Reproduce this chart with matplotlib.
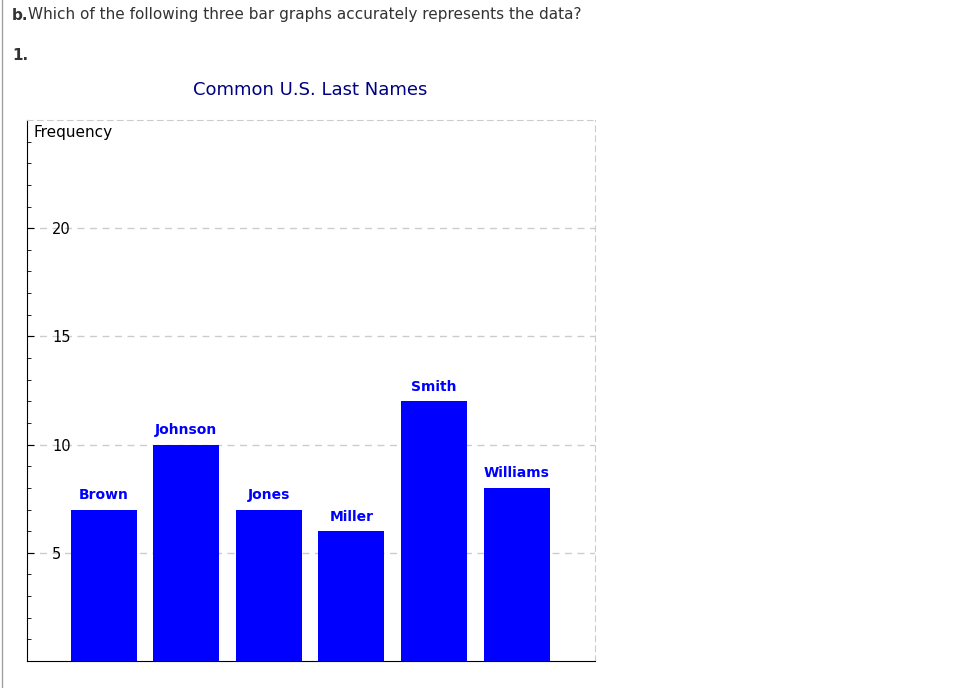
import matplotlib
matplotlib.use('Agg')
import matplotlib.pyplot as plt
from matplotlib.ticker import MultipleLocator

names = ['Brown', 'Johnson', 'Jones', 'Miller', 'Smith', 'Williams']
counts = [7, 10, 7, 6, 12, 8]
yticks = [5, 10, 15, 20]

fig = plt.figure(figsize=(9.54, 6.88), dpi=100)
W, H = 954, 688

# page text above the chart
fig.text(12 / W, 1 - 15 / H, 'b.', fontsize=11, fontweight='bold', va='center', color='#333333')
fig.text(28 / W, 1 - 15 / H, 'Which of the following three bar graphs accurately represents the data?',
         fontsize=11, va='center', color='#333333')
fig.text(12 / W, 1 - 55 / H, '1.', fontsize=11, fontweight='bold', va='center', color='#333333')
fig.add_artist(plt.Line2D([2 / W, 2 / W], [0, 1], color='#a0a0a0', lw=1))

ax = fig.add_axes([27 / W, 27 / H, 568 / W, 541 / H])
x = list(range(len(names)))
ax.bar(x, counts, width=0.8, color='#0000ff', zorder=3)
for xi, c, n in zip(x, counts, names):
    ax.text(xi, c + 0.35, n, ha='center', va='bottom', fontsize=10, fontweight='bold', color='#0000ff')

ax.set_xlim(-0.93, 5.95)
ax.set_ylim(0, 25)
ax.set_xticks([])
ax.set_yticks(yticks)
ax.yaxis.set_minor_locator(MultipleLocator(1))
ax.tick_params(axis='y', direction='in', length=5, pad=-18, labelsize=10.5)
ax.tick_params(axis='y', which='minor', direction='in', length=3)
for lbl in ax.get_yticklabels():
    lbl.set_horizontalalignment('left')
ax.grid(axis='y', linestyle=(0, (5, 4)), color='#cccccc', lw=1, zorder=0)
ax.spines['top'].set_linestyle((0, (5, 4)))
ax.spines['top'].set_color('#cccccc')
ax.spines['right'].set_linestyle((0, (5, 4)))
ax.spines['right'].set_color('#cccccc')
ax.text(0.012, 0.99, 'Frequency', transform=ax.transAxes, ha='left', va='top', fontsize=11)
fig.text(310 / W, 1 - 90 / H, 'Common U.S. Last Names', ha='center', va='center',
         fontsize=13, color='#000080')

fig.savefig('out.png', dpi=100)
